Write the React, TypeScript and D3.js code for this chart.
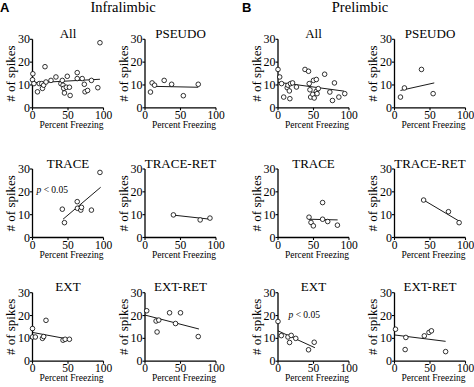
import React, { useEffect } from "react";
import { scaleLinear, line } from "d3";

// percent freezing, # of spikes
const ilAll = [
  [0.5, 14.9], [0, 12.3], [2, 10.6], [7, 7], [9.5, 10.6], [13, 10.6], [14, 8.5],
  [15.7, 9.9], [17.6, 18], [19, 11.3], [26, 12], [33, 13.5], [40, 10.6], [42, 12],
  [43, 9.9], [44, 8.5], [47.6, 9], [45, 6.5], [49, 13.8], [52, 9], [53, 5.4],
  [63, 15.4], [63, 12.8], [70, 12.8], [73, 10.3], [74, 7], [77.6, 7.6], [83, 12],
  [92, 8.8], [95, 28.5],
];
const ilPseudo = [[7.7, 6.9], [10, 10.9], [13.5, 9.9], [27, 12], [37.5, 10.3], [54, 5.3], [75, 10.3]];
const ilTrace = [[42, 12.4], [45, 6.5], [63, 15.7], [63.3, 12.8], [68, 12], [69, 13.2], [83, 12], [95, 28.5]];
const ilTraceRet = [[40, 9.9], [77.7, 7.7], [91.5, 8.5]];
const ilExt = [[0, 14.3], [0, 10.6], [4, 10.6], [14, 10], [15.7, 10.8], [19, 17.9], [43, 9.2], [46, 9.6], [52, 9.6]];
const ilExtRet = [[2.4, 22.1], [15.6, 17.6], [17, 12.8], [19.4, 18], [34.6, 21.2], [43, 16.5], [50, 21.2], [75, 10.8]];

const plAll = [
  [0, 16.8], [2.4, 13.5], [5, 10.6], [8, 4.7], [13, 8.8], [14, 9.9], [16, 7.4],
  [16.7, 4], [17.6, 10.6], [20.5, 10.9], [26, 9.1], [38, 16.8], [43, 16], [44, 10.6],
  [45, 7.9], [46, 4.7], [49, 5.9], [50, 12], [51, 4.3], [54, 12.4], [54, 7.2],
  [55, 6.2], [56.7, 8.4], [65.7, 14.7], [73, 6.9], [76.7, 3.2], [79.5, 10.9],
  [85.7, 4.7], [94, 6.2],
];
const plPseudo = [[8.4, 4.7], [14, 8.7], [38, 16.8], [54.4, 6.2]];
const plTrace = [[43.7, 8.9], [46.5, 6.6], [49.8, 5.1], [62.8, 15.3], [62.8, 8], [70, 7], [83.7, 5.4]];
const plTraceRet = [[41, 16.4], [76, 11.3], [91, 6.5]];
const plExt = [[0, 17.4], [4.7, 11.2], [14, 10.6], [16.3, 8.2], [18.6, 11.3], [25, 10], [43, 5], [51, 8.3]];
const plExtRet = [[1.4, 14], [15, 5.1], [16, 10.4], [42, 11.1], [48.6, 12.6], [52, 13.3], [72, 4.2]];

// fitted lines: [x0, y0, x1, y1]
const ilAllFit = [0, 10.9, 95, 12.5];
const ilPseudoFit = [11, 9.4, 75, 9.0];
const ilTraceFit = [43, 8, 96, 22];
const ilTraceRetFit = [40, 9.8, 92, 8.0];
const ilExtFit = [0, 12.6, 52, 9.6];
const ilExtRetFit = [0, 20.2, 76, 14.1];
const plAllFit = [0, 11.2, 93, 7.3];
const plPseudoFit = [8.4, 7.6, 56, 10.9];
const plTraceFit = [43.7, 8, 84, 7.7];
const plTraceRetFit = [41, 16.4, 92, 7];
const plExtFit = [0, 13.3, 52, 5.9];
const plExtRetFit = [0, 11.5, 72, 8.7];

const yTicks = [0, 10, 20, 30];
const xTicks = [0, 50, 100];

const cols = [32.5, 145, 278, 394.5];
const rows = [39.3, 169, 292.7];
const W = 71;
const H = 68.5;

const panels = [
  { title: "All", data: ilAll, fit: ilAllFit, col: 0, row: 0 },
  { title: "PSEUDO", data: ilPseudo, fit: ilPseudoFit, col: 1, row: 0 },
  { title: "TRACE", data: ilTrace, fit: ilTraceFit, col: 0, row: 1, p: [4, 24] },
  { title: "TRACE-RET", data: ilTraceRet, fit: ilTraceRetFit, col: 1, row: 1 },
  { title: "EXT", data: ilExt, fit: ilExtFit, col: 0, row: 2 },
  { title: "EXT-RET", data: ilExtRet, fit: ilExtRetFit, col: 1, row: 2 },
  { title: "All", data: plAll, fit: plAllFit, col: 2, row: 0 },
  { title: "PSEUDO", data: plPseudo, fit: plPseudoFit, col: 3, row: 0 },
  { title: "TRACE", data: plTrace, fit: plTraceFit, col: 2, row: 1 },
  { title: "TRACE-RET", data: plTraceRet, fit: plTraceRetFit, col: 3, row: 1 },
  { title: "EXT", data: plExt, fit: plExtFit, col: 2, row: 2, p: [10.5, 25.5] },
  { title: "EXT-RET", data: plExtRet, fit: plExtRetFit, col: 3, row: 2 },
];

const serif = "'Liberation Serif', 'Times New Roman', serif";
const sans = "'Liberation Sans', Arial, sans-serif";

const Panel = ({ p }) => {
  const left = cols[p.col];
  const top = rows[p.row];
  const x = scaleLinear().domain([0, 100]).range([left, left + W]);
  const y = scaleLinear().domain([0, 30]).range([top + H, top]);
  const fitLine = line().x((d) => x(d[0])).y((d) => y(d[1]));
  const f = p.fit;
  return (
    <g>
      <text x={x(50)} y={top - 1.5} textAnchor="middle" fontSize={13} fontFamily={serif}>
        {p.title}
      </text>
      <line x1={left} x2={left} y1={y(0)} y2={y(30)} stroke="#000" strokeWidth={1.3} />
      <line x1={left} x2={x(100)} y1={y(0)} y2={y(0)} stroke="#000" strokeWidth={1.3} />
      {yTicks.map((t) => (
        <g key={"y" + t}>
          <line x1={left - 2.5} x2={left} y1={y(t)} y2={y(t)} stroke="#000" strokeWidth={1.1} />
          <text x={left - 2.5} y={y(t) + 4.1} textAnchor="end" fontSize={12} fontFamily={serif}>
            {t}
          </text>
        </g>
      ))}
      {xTicks.map((t) => (
        <g key={"x" + t}>
          <line x1={x(t)} x2={x(t)} y1={y(0)} y2={y(0) + 2.5} stroke="#000" strokeWidth={1.1} />
          <text x={x(t)} y={y(0) + 11} textAnchor="middle" fontSize={11.5} fontFamily={serif}>
            {t}
          </text>
        </g>
      ))}
      <text x={left + 39} y={y(0) + 20} textAnchor="middle" fontSize={9.5} fontFamily={serif}>
        Percent Freezing
      </text>
      <text
        transform={`translate(${left - 17.5},${y(15)}) rotate(-90)`}
        textAnchor="middle"
        fontSize={13}
        fontFamily={serif}
      >
        # of spikes
      </text>
      <path d={fitLine([[f[0], f[1]], [f[2], f[3]]])} stroke="#000" strokeWidth={0.9} fill="none" />
      {p.data.map((d, i) => (
        <circle key={i} cx={x(d[0])} cy={y(d[1])} r={2.3} fill="#fff" stroke="#000" strokeWidth={0.8} />
      ))}
      {p.p && (
        <text x={left + p.p[0]} y={top + p.p[1]} fontSize={9.5} fontFamily={serif}>
          <tspan fontStyle="italic">p</tspan> {"< 0.05"}
        </text>
      )}
    </g>
  );
};

export default function App() {
  useEffect(() => {
    document.body.style.margin = "0";
  }, []);
  return (
    <svg width={474} height={387} style={{ display: "block", background: "#fff" }}>
      <rect width={474} height={387} fill="#fff" />
      <text x={0} y={12} fontSize={13} fontWeight="bold" fontFamily={sans}>A</text>
      <text x={242} y={11.5} fontSize={13} fontWeight="bold" fontFamily={sans}>B</text>
      <text x={123} y={11.5} textAnchor="middle" fontSize={14.5} fontFamily={serif}>Infralimbic</text>
      <text x={360} y={11.5} textAnchor="middle" fontSize={14.5} fontFamily={serif}>Prelimbic</text>
      {panels.map((p, i) => (
        <Panel key={i} p={p} />
      ))}
    </svg>
  );
}
